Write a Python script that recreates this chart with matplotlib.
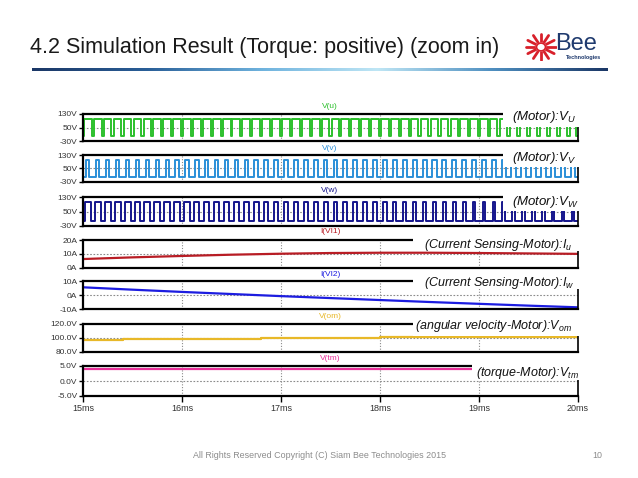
import matplotlib
matplotlib.use("Agg")
import matplotlib.pyplot as plt
from matplotlib.colors import LinearSegmentedColormap
from matplotlib.patches import Rectangle
import numpy as np

plt.rcParams["font.family"] = "Liberation Sans"
plt.rcParams["mathtext.fontset"] = "custom"
plt.rcParams["mathtext.rm"] = "Liberation Sans"
plt.rcParams["mathtext.it"] = "Liberation Sans:italic"

W, H = 638, 478

# ===================== data =====================
title = "4.2 Simulation Result (Torque: positive) (zoom in)"
footer = "All Rights Reserved Copyright (C) Siam Bee Technologies 2015"
page_no = "10"

x_ticks = [15, 16, 17, 18, 19, 20]
x_labels = ["15ms", "16ms", "17ms", "18ms", "19ms", "20ms"]

# PWM: 10 kHz carrier, one duty value per 0.1 ms period (15ms .. 20ms)
pwm_period = 0.1
pwm_low, pwm_high = 0.0, 100.0
duty_u = [0.74, 0.75, 0.75, 0.76, 0.76, 0.77, 0.77, 0.77, 0.78, 0.78,
          0.78, 0.79, 0.79, 0.79, 0.80, 0.80, 0.80, 0.80, 0.80, 0.80,
          0.80, 0.80, 0.80, 0.80, 0.79, 0.79, 0.79, 0.79, 0.78, 0.78,
          0.78, 0.77, 0.77, 0.77, 0.76, 0.76, 0.75, 0.75, 0.74, 0.74,
          0.73, 0.73, 0.72, 0.72, 0.71, 0.71, 0.70, 0.70, 0.69, 0.69]
duty_v = [0.30, 0.30, 0.31, 0.31, 0.31, 0.32, 0.32, 0.32, 0.33, 0.33,
          0.33, 0.34, 0.34, 0.34, 0.35, 0.35, 0.35, 0.36, 0.36, 0.36,
          0.37, 0.37, 0.37, 0.38, 0.38, 0.38, 0.39, 0.39, 0.39, 0.40,
          0.40, 0.40, 0.41, 0.41, 0.41, 0.42, 0.42, 0.42, 0.42, 0.43,
          0.43, 0.43, 0.43, 0.44, 0.44, 0.44, 0.44, 0.45, 0.45, 0.45]
duty_w = [0.64, 0.63, 0.62, 0.61, 0.60, 0.59, 0.58, 0.57, 0.56, 0.55,
          0.54, 0.53, 0.52, 0.51, 0.50, 0.49, 0.48, 0.47, 0.46, 0.45,
          0.44, 0.43, 0.42, 0.41, 0.40, 0.39, 0.38, 0.37, 0.36, 0.35,
          0.34, 0.33, 0.33, 0.32, 0.31, 0.30, 0.30, 0.29, 0.28, 0.28,
          0.27, 0.27, 0.26, 0.26, 0.25, 0.25, 0.24, 0.24, 0.23, 0.23]

cur_t = [15.0, 15.5, 16.0, 16.5, 17.0, 17.5, 18.0, 18.5, 19.0, 19.5, 20.0]
i_vi1 = [6.4, 7.6, 8.6, 9.5, 10.2, 10.7, 10.9, 10.9, 10.7, 10.4, 10.1]
i_vi2 = [5.5, 3.8, 2.2, 0.7, -0.8, -2.2, -3.6, -5.0, -6.3, -7.6, -8.8]

om_t = [15.0, 15.4, 16.8, 18.0, 20.0]
om_v = [97.0, 98.6, 99.5, 100.8, 100.8]

tm_t = [15.0, 20.0]
tm_v = [4.0, 4.0]

trace_names = ["V(u)", "V(v)", "V(w)", "I(VI1)", "I(VI2)", "V(om)", "V(tm)"]
trace_colors = ["#2cc02c", "#2a8fd8", "#15158c", "#b81c24", "#1c1ce0", "#e8b828", "#e8309a"]
y_ticks = [[-30, 50, 130], [-30, 50, 130], [-30, 50, 130],
           [0, 10, 20], [-10, 0, 10], [80, 100, 120], [-5, 0, 5]]
y_labels = [["-30V", "50V", "130V"], ["-30V", "50V", "130V"], ["-30V", "50V", "130V"],
            ["0A", "10A", "20A"], ["-10A", "0A", "10A"],
            ["80.0V", "100.0V", "120.0V"], ["-5.0V", "0.0V", "5.0V"]]
annotations = [r"(Motor):V$_{U}$", r"(Motor):V$_{V}$", r"(Motor):V$_{W}$",
               r"(Current Sensing-Motor):I$_{u}$", r"(Current Sensing-Motor):I$_{w}$",
               r"(angular velocity-Motor):V$_{om}$", r"(torque-Motor):V$_{tm}$"]

# ===================== layout (pixels) =====================
x0_px, x1_px = 83, 578
panel_y = [(114, 141), (155, 182), (197, 226), (240, 268), (281, 309), (324, 352), (366, 396)]
label_y = [106, 148, 190, 232, 274, 317, 359]
# white cover boxes holding the annotations: (x0, y0, x1, y1, text x, text y)
covers = [(503, 100, 592, 127, 512, 117),
          (503, 143, 592, 167, 512, 158),
          (503, 186, 592, 211, 512, 202),
          (413, 228, 592, 251, 424, 245),
          (413, 271, 592, 289, 424, 283),
          (413, 314, 592, 336, 415, 326),
          (472, 357, 592, 380, 476, 373)]
annot_size = [9.5, 9.5, 9.5, 9, 9, 9, 9]


def fbox(x0, y0, x1, y1):
    return [x0 / W, 1 - y1 / H, (x1 - x0) / W, (y1 - y0) / H]


def pwm_wave(duties):
    t, v = [], []
    for k, d in enumerate(duties):
        s = 15.0 + k * pwm_period
        a = s + (1 - d) / 2 * pwm_period
        b = s + (1 + d) / 2 * pwm_period
        t += [s, a, a, b, b, s + pwm_period]
        v += [pwm_low, pwm_low, pwm_high, pwm_high, pwm_low, pwm_low]
    return t, v


fig = plt.figure(figsize=(W / 100, H / 100), dpi=100, facecolor="white")

# title + gradient rule
fig.text(30 / W, 1 - 48 / H, title, fontsize=15.5, color="#1a1a1a", va="center", ha="left")
rule_ax = fig.add_axes(fbox(32, 68, 608, 71))
rule_cmap = LinearSegmentedColormap.from_list(
    "rule", ["#1b3766", "#2a5f98", "#6fb3de", "#bfe6f5", "#4f8fc0", "#1b3766"])
rule_ax.imshow(np.linspace(0, 1, 256)[None, :], aspect="auto", cmap=rule_cmap)
rule_ax.axis("off")

# logo
logo_ax = fig.add_axes(fbox(525, 33, 557, 61))
logo_ax.set_xlim(-1, 1)
logo_ax.set_ylim(-1, 1)
logo_ax.axis("off")
for ang in np.arange(0, 360, 30):
    r = np.deg2rad(ang)
    logo_ax.plot([0.25 * np.cos(r), 0.95 * np.cos(r)], [0.25 * np.sin(r), 0.95 * np.sin(r)],
                 color="#d8202a", lw=2.0, solid_capstyle="round")
logo_ax.add_patch(plt.Circle((0, 0), 0.28, color="white", zorder=3))
logo_ax.add_patch(plt.Circle((0, 0), 0.28, fill=False, ec="#d8202a", lw=1.2, zorder=4))
fig.text(555 / W, 1 - 44 / H, "Bee", fontsize=17, color="#1f3a6e", va="center", ha="left")
fig.text(584 / W, 1 - 58 / H, "Technologies", fontsize=4, fontweight="bold",
         color="#1f3a6e", va="center", ha="center")

# waveform panels
series = [pwm_wave(duty_u), pwm_wave(duty_v), pwm_wave(duty_w),
          (cur_t, i_vi1), (cur_t, i_vi2), (om_t, om_v), (tm_t, tm_v)]

for i, (yt, yb) in enumerate(panel_y):
    ax = fig.add_axes(fbox(x0_px, yt, x1_px, yb))
    t, v = series[i]
    if i == 5:
        ax.step(t, v, where="post", color=trace_colors[i], lw=1.6)
    else:
        ax.plot(t, v, color=trace_colors[i], lw=1.4 if i < 3 else 1.6)
    ax.set_xlim(15, 20)
    ax.set_ylim(y_ticks[i][0], y_ticks[i][-1])
    ax.set_yticks(y_ticks[i])
    ax.set_yticklabels(y_labels[i])
    ax.set_xticks(x_ticks)
    for xv in x_ticks[1:-1]:
        ax.axvline(xv, color="#8a8a8a", lw=0.8, ls=(0, (1, 1.5)), zorder=0)
    ax.axhline(y_ticks[i][1], color="#8a8a8a", lw=0.8, ls=(0, (1.5, 1.5)), zorder=0)
    for side in ["top", "bottom", "left"]:
        ax.spines[side].set_linewidth(1.6)
        ax.spines[side].set_color("black")
    ax.spines["right"].set_linewidth(1.2)
    ax.tick_params(axis="y", direction="out", length=3, width=1.0, pad=1,
                   labelsize=6, labelcolor="#333333")
    if i == len(panel_y) - 1:
        ax.set_xticklabels(x_labels)
        ax.tick_params(axis="x", direction="out", length=4, width=1.0, pad=2,
                       labelsize=6.5, labelcolor="#333333")
    else:
        ax.tick_params(axis="x", length=0, labelbottom=False)
    fig.text(330 / W, 1 - label_y[i] / H, trace_names[i], fontsize=6,
             color=trace_colors[i], ha="center", va="center")

# white boxes with the slide annotations
for (bx0, by0, bx1, by1, tx, ty), txt, fs in zip(covers, annotations, annot_size):
    fig.patches.append(Rectangle((bx0 / W, 1 - by1 / H), (bx1 - bx0) / W, (by1 - by0) / H,
                                 transform=fig.transFigure, fc="white", ec="none", zorder=5))
    fig.text(tx / W, 1 - ty / H, txt, fontsize=fs, style="italic", color="#111111",
             ha="left", va="center", zorder=6)

# footer
fig.text(193 / W, 1 - 455 / H, footer, fontsize=6.4, color="#8c8c8c", ha="left", va="center")
fig.text(597 / W, 1 - 455 / H, page_no, fontsize=6.4, color="#8c8c8c", ha="center", va="center")

fig.savefig("out.png", dpi=100, facecolor="white")
